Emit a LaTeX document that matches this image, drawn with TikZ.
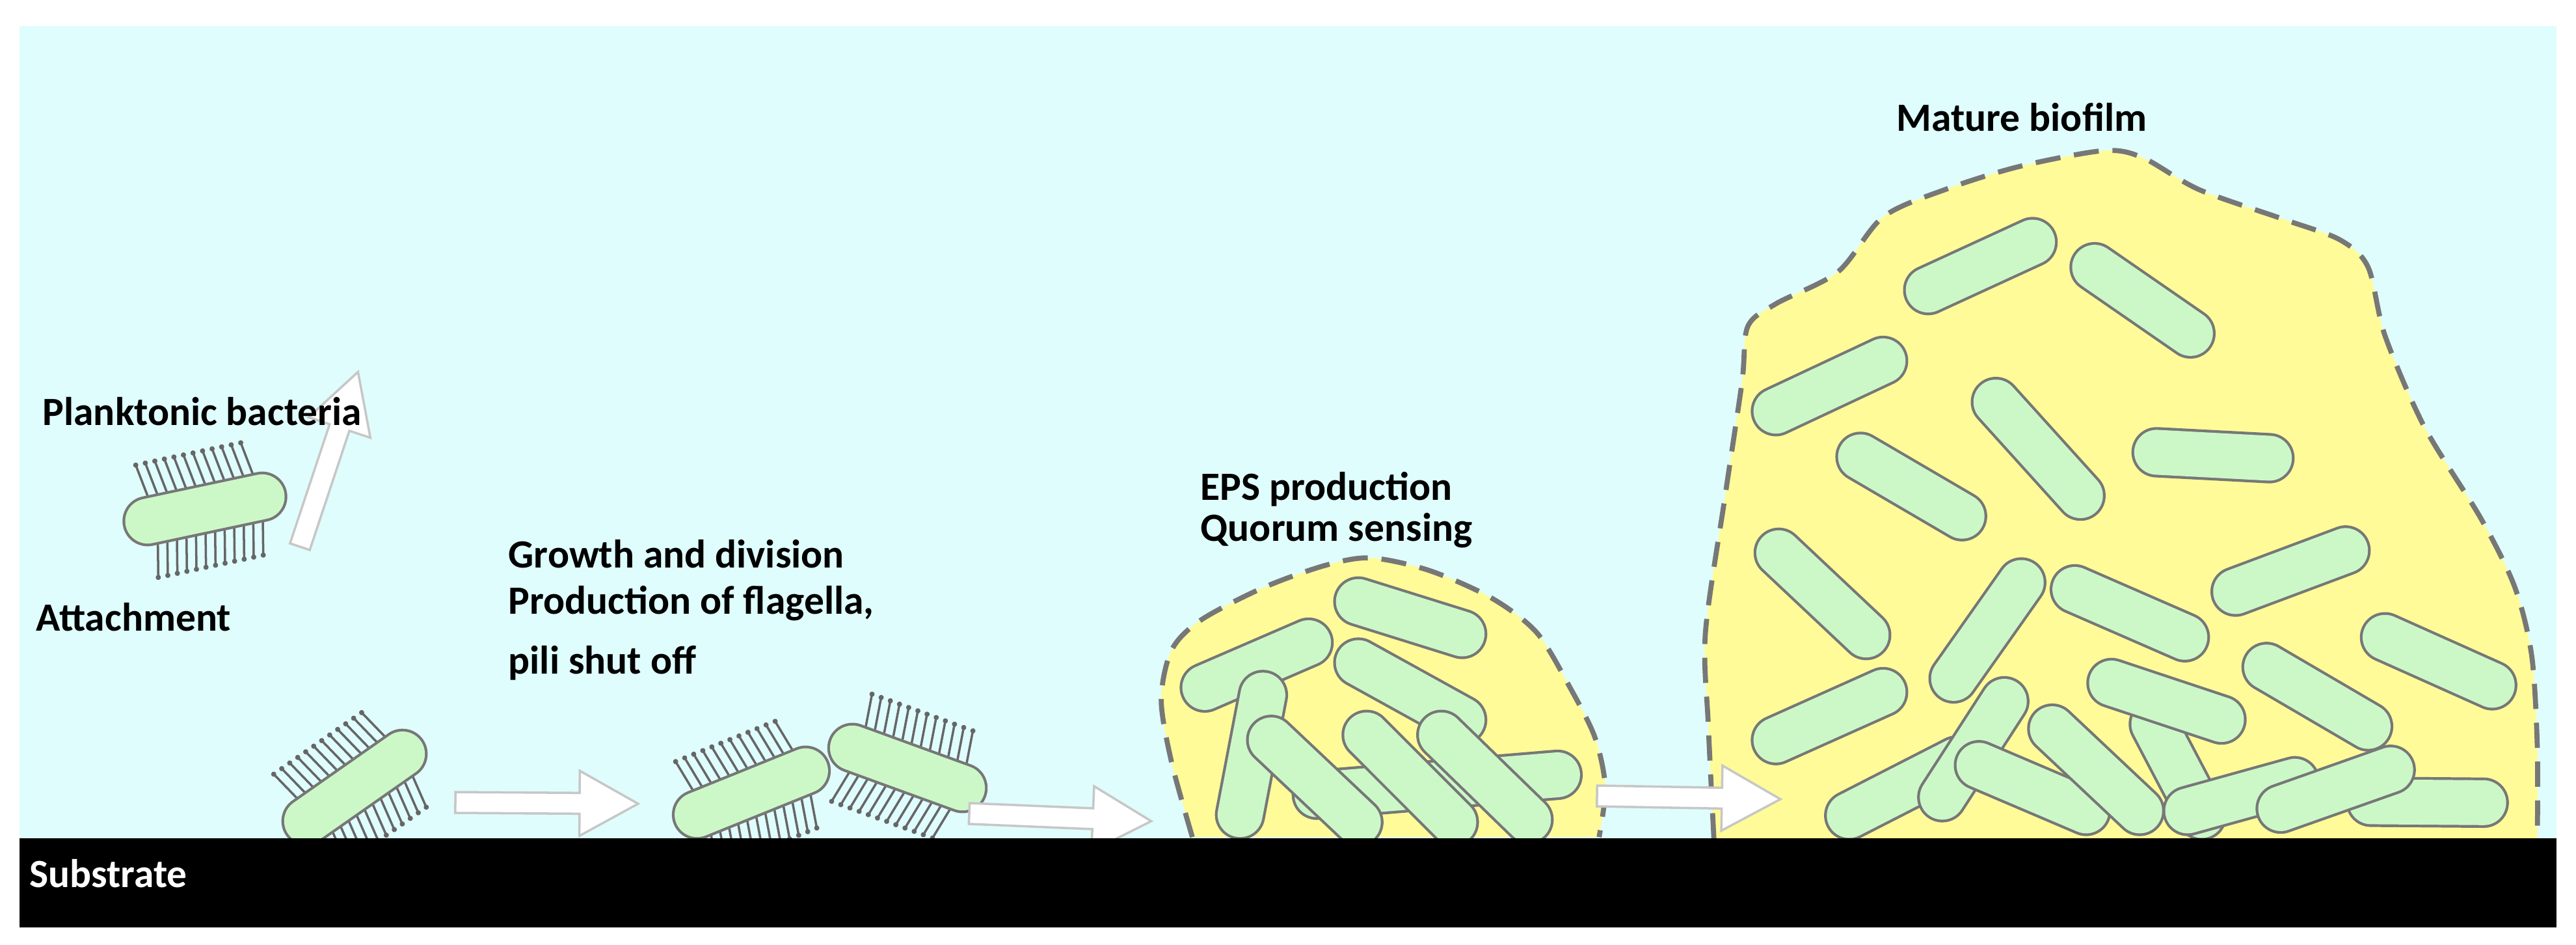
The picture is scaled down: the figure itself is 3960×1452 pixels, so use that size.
\documentclass[tikz,border=0pt]{standalone}
\usepackage{fontspec}
\setmainfont{Carlito}
\definecolor{bgcyan}{HTML}{DFFDFD}
\definecolor{eps}{HTML}{FFFB99}
\definecolor{bgreen}{HTML}{CCF8C8}
\definecolor{bgray}{HTML}{777777}
\definecolor{pgray}{HTML}{666666}
\newcommand\bac[4]{\draw[line width=22pt,line cap=round,draw=bgray] (#1,#2)--(#3,#4);\draw[line width=19.6pt,line cap=round,draw=bgreen] (#1,#2)--(#3,#4);}
\newcommand\pbac[3]{\begin{scope}[shift={(#1,#2)},rotate=#3]
\foreach \i in {0,...,11}{\pgfmathsetmacro\u{-82+\i*15}
\draw[pili] (\u,-38)--(\u-8,-88); \fill[pgray] (\u-8,-88) circle (4);
\draw[pili] (\u,38)--(\u-10,88); \fill[pgray] (\u-10,88) circle (4);}
\bac{-90}{0}{90}{0}\end{scope}}
\newcommand\barrow[4]{\begin{scope}[shift={(#1,#2)},rotate=#3]
\draw[blockarrow] (0,-16)--(#4-90,-16)--(#4-90,-50)--(#4,0)--(#4-90,50)--(#4-90,16)--(0,16)--cycle;\end{scope}}
\tikzset{pili/.style={draw=pgray,line width=1pt},
blockarrow/.style={fill=white,draw=black!22,line width=1pt},
lbl/.style={font=\fontsize{17.5}{21}\selectfont\bfseries,anchor=west,inner sep=0pt},
blob/.style={draw=bgray,line width=2.2pt,dash pattern=on 11pt off 6pt}}
\begin{document}
\begin{tikzpicture}[x=0.01cm,y=-0.01cm]
\fill[white] (0,0) rectangle (3960,1452);
\fill[bgcyan] (30,40) rectangle (3930,1290);
% EPS blob
\begin{scope}[shift={(1750,750)},xscale=0.638,yscale=0.383]
\fill[eps] plot[smooth] coordinates {(130,1400)(80,1100)(55,850)(80,650)(150,530)(300,400)(450,310)(560,280)(700,330)(850,440)(960,580)(1040,800)(1100,1000)(1125,1200)(1110,1400)} -- cycle;
\draw[blob] plot[smooth] coordinates {(130,1400)(80,1100)(55,850)(80,650)(150,530)(300,400)(450,310)(560,280)(700,330)(850,440)(960,580)(1040,800)(1100,1000)(1125,1200)(1110,1400)};
\bac{430}{1230}{1010}{1150}
\bac{530}{455}{780}{585}
\bac{160}{800}{410}{620}
\bac{245}{1310}{300}{830}
\bac{530}{700}{780}{930}
\bac{320}{1010}{530}{1340}
\bac{550}{990}{760}{1340}
\bac{730}{990}{940}{1330}
\end{scope}
% Mature blob
\begin{scope}[shift={(2600,200)},xscale=0.867,yscale=0.702]
\fill[eps] plot[smooth] coordinates {(40,1550)(30,1300)(25,1100)(60,800)(90,550)(100,430)(150,380)(260,310)(340,190)(450,130)(580,80)(730,45)(800,60)(900,130)(1050,195)(1150,240)(1200,300)(1230,450)(1300,650)(1400,850)(1460,1000)(1490,1150)(1500,1350)(1500,1550)} -- cycle;
\draw[blob] plot[smooth] coordinates {(40,1550)(30,1300)(25,1100)(60,800)(90,550)(100,430)(150,380)(260,310)(340,190)(450,130)(580,80)(730,45)(800,60)(900,130)(1050,195)(1150,240)(1200,300)(1230,450)(1300,650)(1400,850)(1460,1000)(1490,1150)(1500,1350)(1500,1550)};
\bac{420}{350}{605}{245}
\bac{715}{300}{885}{445}
\bac{150}{615}{340}{505}
\bac{540}{595}{690}{800}
\bac{825}{705}{1025}{718}
\bac{300}{715}{480}{845}
\bac{155}{925}{310}{1105}
\bac{465}{1200}{585}{990}
\bac{680}{1005}{875}{1110}
\bac{965}{1010}{1160}{920}
\bac{1230}{1110}{1420}{1215}
\bac{150}{1335}{340}{1230}
\bac{1020}{1175}{1200}{1305}
\bac{280}{1500}{470}{1380}
\bac{445}{1460}{555}{1250}
\bac{510}{1390}{700}{1490}
\bac{640}{1310}{795}{1490}
\bac{820}{1300}{905}{1500}
\bac{745}{1210}{940}{1290}
\bac{1205}{1470}{1405}{1472}
\bac{880}{1490}{1070}{1425}
\bac{1045}{1485}{1240}{1400}
\end{scope}
% pili bacteria
\pbac{315}{782}{12}
\pbac{545}{1210}{35}
\pbac{1155}{1218}{22}
\pbac{1395}{1180}{-20}
% arrows
\barrow{461}{840}{71.6}{283}
\barrow{700}{1233}{-0.4}{281}
\barrow{1490}{1250}{-2.4}{280}
\barrow{2455}{1223}{-1}{282}
% substrate
\fill[black] (30,1288) rectangle (3930,1425);
\node[lbl,text=white] (sub) at (45,1342) {Substrate};
\node[lbl] (plank) at (65,632) {Planktonic bacteria};
\node[lbl] (att) at (55,948) {Attachment};
\node[lbl] (g1) at (781,851) {Growth and division};
\node[lbl] (g2) at (781,927) {Production of flagella,};
\node[lbl] (g3) at (781,1019) {pili shut off};
\node[lbl] (e1) at (1845,752) {EPS production};
\node[lbl] (e2) at (1845,815) {Quorum sensing};
\node[lbl] (m) at (2915,180) {Mature biofilm};
\end{tikzpicture}
\end{document}
